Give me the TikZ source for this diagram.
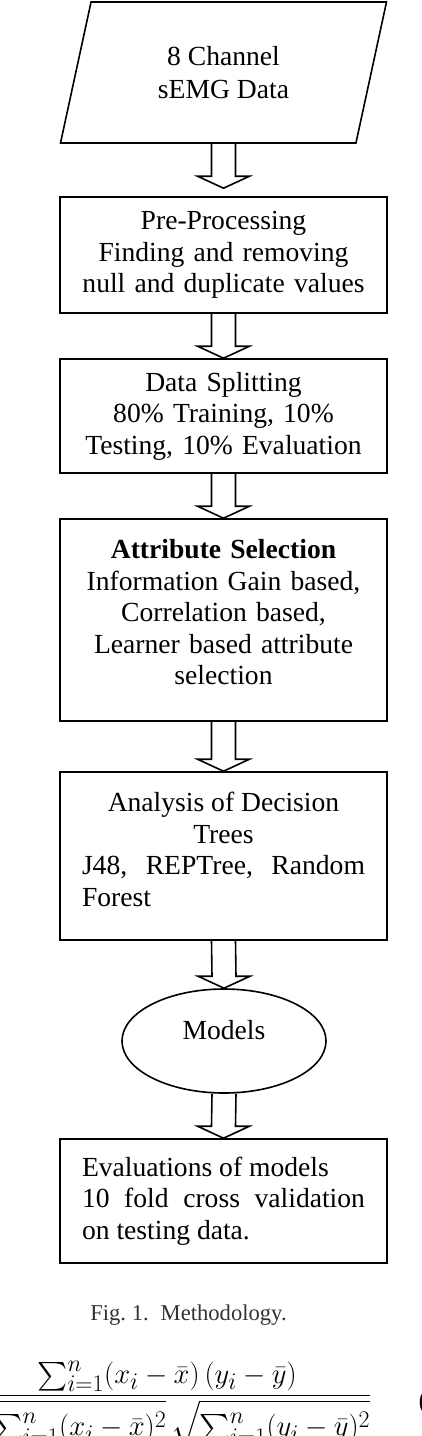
\documentclass[tikz,border=0pt]{standalone}
\usepackage{exscale}
\usepackage{fontspec}
\setmainfont{Liberation Serif}
\usetikzlibrary{shapes.geometric, calc}
\setlength{\parindent}{0pt}
\tolerance=10000
\hyphenpenalty=10000

\tikzset{
    flowbox/.style={
        draw,
        line width=1.6pt,
        minimum width=327pt,
        inner sep=0pt,
        text width=283pt,
        font=\fontsize{27.6}{31.5}\selectfont
    },
    blockarrow/.style={line width=1.6pt, line join=miter}
}

\begin{document}
\begin{tikzpicture}[x=1pt, y=-1pt]
\useasboundingbox (0,0) rectangle (422,1436);
\clip (0,0) rectangle (422,1436);

% input data
\node[
    draw,
    line width=1.6pt,
    trapezium,
    trapezium left angle=60,
    trapezium right angle=120,
    trapezium stretches body=true,
    minimum width=326pt,
    minimum height=141pt,
    inner sep=0pt,
    align=center,
    font=\fontsize{27.6}{33.5}\selectfont
] (data) at (223.5,72.5) {8 Channel\\sEMG Data};

% processing steps
\node[flowbox, minimum height=116pt, align=center] (prep) at (223.5,255)
    {Pre-Processing\\Finding and removing\\null and duplicate values};

\node[flowbox, minimum height=114pt, align=center] (split) at (223.5,416)
    {Data Splitting\\80\% Training, 10\%\\Testing, 10\% Evaluation};

\node[flowbox, minimum height=202pt, align=center] (attr) at (223.5,620)
    {\textbf{Attribute Selection}\\Information Gain based,\\Correlation based,\\Learner based attribute\\selection\par\nointerlineskip\vskip15pt\hbox{}};

\node[flowbox, minimum height=168pt, align=justify] (trees) at (223.5,856)
    {{\centering Analysis of Decision\\Trees\par}J48, REPTree, Random Forest\par\nointerlineskip\vskip13pt\hbox{}};

\node[
    draw,
    ellipse,
    line width=1.6pt,
    minimum width=204pt,
    minimum height=104pt,
    inner sep=0pt,
    font=\fontsize{27.6}{31.5}\selectfont
] (models) at (224,1041) {\raisebox{22pt}{Models}};

\node[flowbox, minimum height=124pt, align=justify] (eval) at (223.5,1201)
    {Evaluations of models\par 10 fold cross validation on testing data.};

% hollow arrows (\g = gap left above the next box)
\foreach \a/\b/\g in {data/prep/8, prep/split/0, split/attr/0, attr/trees/0, trees/models/0, models/eval/0}
    \draw[blockarrow] ($(\a.south)+(-12,0)$) -- ($(\b.north)+(-12,-12-\g)$)
        -- ($(\b.north)+(-26,-12-\g)$) -- ($(\b.north)+(0,-\g)$) -- ($(\b.north)+(26,-12-\g)$)
        -- ($(\b.north)+(12,-12-\g)$) -- ($(\a.south)+(12,0)$);

% caption and formula
\node[font=\fontsize{22.6}{26}\selectfont, text=black!80] (caption) at (188.5,1315)
    {Fig.~1.\hspace{12pt}Methodology.};

\node[anchor=base, scale=1.15, font=\fontsize{24.88}{30}\selectfont] (corr) at (167,1403)
    {$\displaystyle\frac{\sum_{i=1}^{n}(x_i-\bar{x})\,(y_i-\bar{y})}{\sqrt{\sum_{i=1}^{n}(x_i-\bar{x})^2}\,\sqrt{\sum_{i=1}^{n}(y_i-\bar{y})^2}}$};

\node[anchor=west, font=\fontsize{28}{34}\selectfont] (eqnum) at (415,1403) {(};
\end{tikzpicture}
\end{document}
